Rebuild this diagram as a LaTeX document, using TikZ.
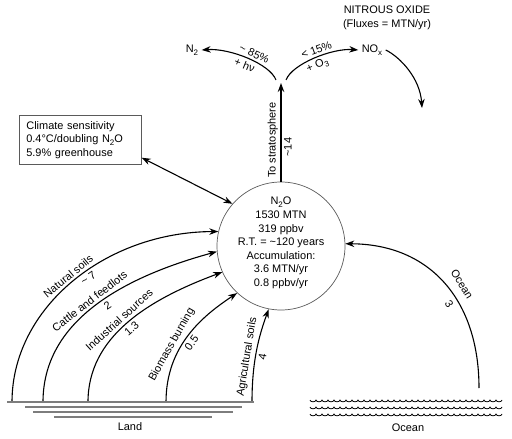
\documentclass[tikz,border=0pt]{standalone}
\usepackage{fontspec}
\setmainfont{Liberation Sans}
\usetikzlibrary{arrows.meta}
\definecolor{landgray}{RGB}{125,125,125}
\definecolor{circgray}{RGB}{90,90,90}
\newcommand\lsub[1]{\raisebox{-0.45ex}{\fontsize{8}{8}\selectfont #1}}
\newcommand\mytilde{\textasciitilde}
\begin{document}
\begin{tikzpicture}[x=1bp,y=-1bp,
  font=\fontsize{11}{13.7}\selectfont,
  flow/.style={line width=1.1bp,-{Stealth[length=9bp,width=6.5bp]}},
  twoway/.style={line width=1.1bp,{Stealth[length=9bp,width=6.5bp]}-{Stealth[length=9bp,width=6.5bp]}},
  lbl/.style={inner sep=2.5bp},
  ground/.style={line width=1.4bp,draw=landgray},
  wave/.style={line width=0.8bp}]
\useasboundingbox (0,0) rectangle (512,439);

% central reservoir
\node[circle,draw=circgray,line width=0.7bp,minimum size=128bp,inner sep=0pt] (n2o) at (281,246) {};
\node[align=center,inner sep=0pt] (n2otext) at (281,243) {N\lsub{2}O\\1530 MTN\\319 ppbv\\R.T. = \mytilde120 years\\Accumulation:\\3.6 MTN/yr\\0.8 ppbv/yr};

% title
\node[align=center,inner sep=0pt] (title) at (387,18) {NITROUS OXIDE\\(Fluxes = MTN/yr)};

% stratosphere products
\node (n2) at (192,50) {N\lsub{2}};
\node (nox) at (372,50) {NO\lsub{x}};
\coordinate (top) at (281,83);
\coordinate (ls) at (276,80);
\coordinate (rs) at (286,80);
\coordinate (noxend) at (422,108);

\draw[flow] (n2o.north) -- (top)
  node[lbl,pos=0.42,sloped,above] {To stratosphere}
  node[lbl,pos=0.35,sloped,below] {\mytilde14};
\draw[flow] (ls) .. controls (270,64) and (230,48) .. (n2.east)
  node[lbl,pos=0.45,sloped,above] {\mytilde{} 85\%}
  node[lbl,pos=0.5,sloped,below] {+ hν};
\draw[flow] (rs) .. controls (292,64) and (332,48) .. (nox.west)
  node[lbl,pos=0.55,sloped,above] {< 15\%}
  node[lbl,pos=0.5,sloped,below] {+ O\lsub{3}};
\draw[flow] (nox.east) .. controls (400,57) and (420,78) .. (noxend);

% climate box
\node[draw=circgray,line width=0.7bp,text width=108bp,inner xsep=7bp,inner ysep=4bp,
  minimum height=49bp,align=left,anchor=north west] (clim) at (19,115)
  {Climate sensitivity\\0.4°C/doubling N\lsub{2}O\\5.9\% greenhouse};
\draw[twoway] ([yshift=7bp]clim.south east) -- (n2o.139);

% land sources
\coordinate (s1) at (12,402);
\coordinate (s2) at (43,402);
\coordinate (s3) at (88,402);
\coordinate (s4) at (166,402);
\coordinate (s5) at (252,402);
\coordinate (s6) at (479,388);

\draw[flow] (s1) .. controls (12,308) and (105,232) .. (n2o.167.4)
  node[lbl,pos=0.5,sloped,above] {Natural soils}
  node[lbl,pos=0.55,sloped,below] {\mytilde{} 7};
\draw[flow] (s2) .. controls (43,322) and (120.7,277.9) .. (n2o.185.4)
  node[lbl,pos=0.5,sloped,above] {Cattle and feedlots}
  node[lbl,pos=0.55,sloped,below] {2};
\draw[flow] (s3) .. controls (88,337) and (147.5,299.8) .. (n2o.204)
  node[lbl,pos=0.48,sloped,above,inner sep=3bp] {Industrial sources}
  node[lbl,pos=0.5,sloped,below] {1.3};
\draw[flow] (s4) .. controls (166,345) and (204,315) .. (n2o.227)
  node[lbl,pos=0.37,sloped,above,inner sep=3bp] {Biomass burning}
  node[lbl,pos=0.46,sloped,below] {0.5};
\draw[flow] (s5) .. controls (252,362) and (258.5,337) .. (n2o.259)
  node[lbl,pos=0.42,sloped,above] {Agricultural soils}
  node[lbl,pos=0.45,sloped,below] {4};
\draw[flow] (s6) .. controls (479,300) and (430,244) .. (n2o.2)
  node[pos=0.4,sloped,below,inner sep=4bp] {3};
\node[rotate=-58,inner sep=0pt] (oceanlbl) at (462,284) {Ocean};

% land
\draw[ground] (7,402) -- (254,402);
\draw[ground] (25,407) -- (242,407);
\draw[ground] (33,412) -- (233,412);
\draw[ground] (54,417) -- (212,417);
\node (land) at (130,427) {Land};

% ocean
\foreach \row in {400,407,414} {
  \draw[wave] (310,\row) \foreach \i in {1,...,32} {arc[start angle=180,end angle=0,x radius=3,y radius=1.8]};
}
\node (ocean) at (408,428) {Ocean};
\end{tikzpicture}
\end{document}
